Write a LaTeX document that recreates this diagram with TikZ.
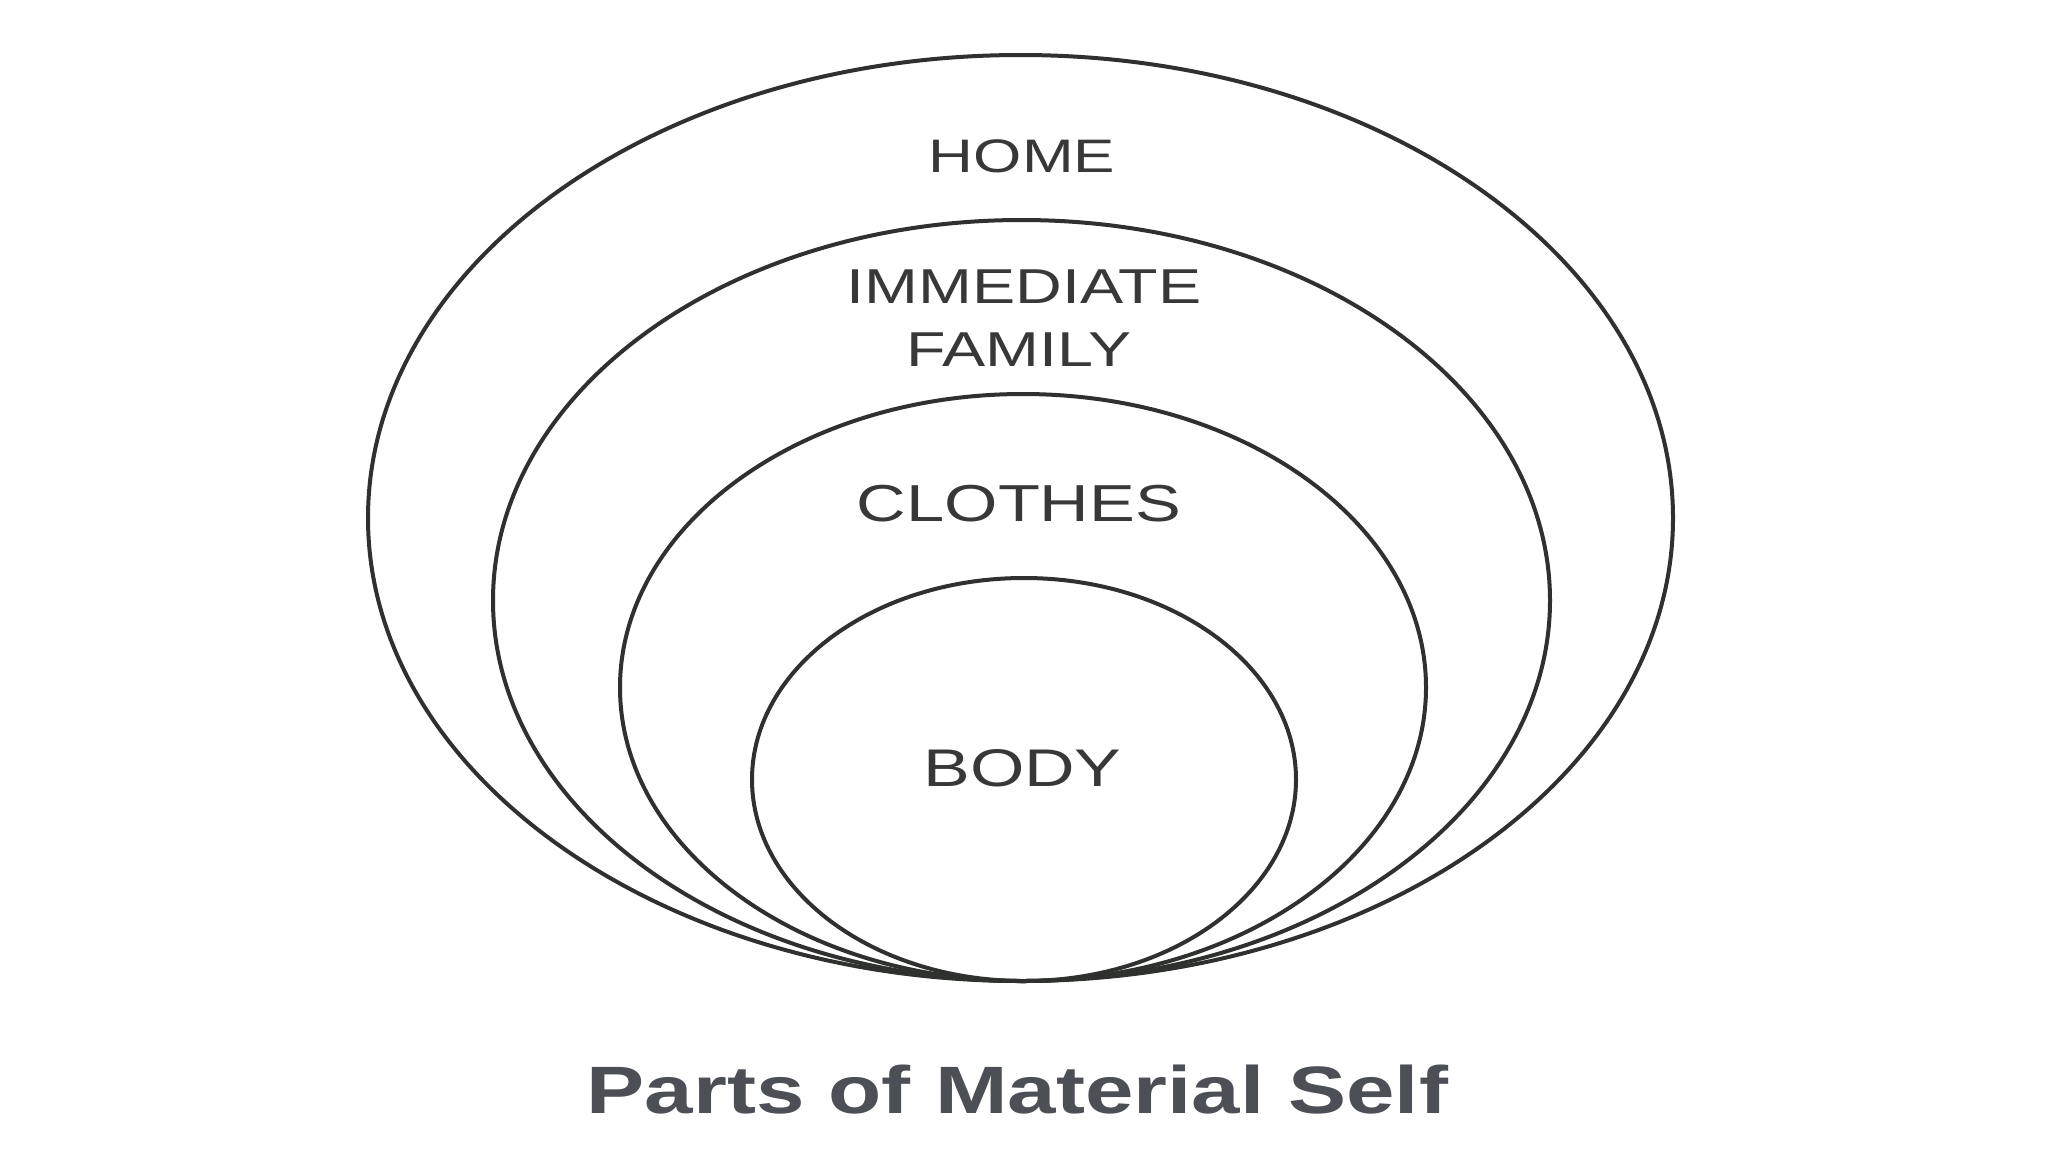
\documentclass[tikz,border=0pt]{standalone}
\usepackage{fontspec}
\setmainfont{Liberation Sans}
\definecolor{linecol}{HTML}{2E312E}
\definecolor{labcol}{HTML}{383838}
\definecolor{titlecol}{HTML}{4D4F57}
\begin{document}
\begin{tikzpicture}[x=1pt,y=-1pt,
  ring/.style={draw=linecol,line width=4pt},
  lbl/.style={anchor=base,inner sep=0pt,xscale=1.32,text=labcol},
  ttl/.style={anchor=base,inner sep=0pt,xscale=1.30,text=titlecol,font=\bfseries\fontsize{67}{80}\selectfont}]
\fill[white] (0,0) rectangle (2048,1152);
\useasboundingbox (0,0) rectangle (2048,1152);
% nested rings, all touching at the bottom
\draw[ring] (1020.5,518) ellipse [x radius=652.5pt, y radius=463pt];
\draw[ring] (1021.5,600.5) ellipse [x radius=528.5pt, y radius=380.5pt];
\draw[ring] (1023,687.5) ellipse [x radius=403pt, y radius=293.5pt];
\draw[ring] (1024,779.5) ellipse [x radius=272pt, y radius=201.5pt];
% labels
\node[lbl,font=\fontsize{47}{56}\selectfont] (home) at (1022,172.5) {HOME};
\node[lbl,font=\fontsize{49}{58}\selectfont] (imm) at (1024,303) {IMMEDIATE};
\node[lbl,font=\fontsize{49}{58}\selectfont] (fam) at (1019,366.5) {FAMILY};
\node[lbl,font=\fontsize{52}{62}\selectfont] (clothes) at (1019,521.5) {CLOTHES};
\node[lbl,font=\fontsize{53}{63}\selectfont] (body) at (1022.5,786) {BODY};
\node[ttl] (title) at (1017.5,1113) {Parts of Material Self};
\end{tikzpicture}
\end{document}
